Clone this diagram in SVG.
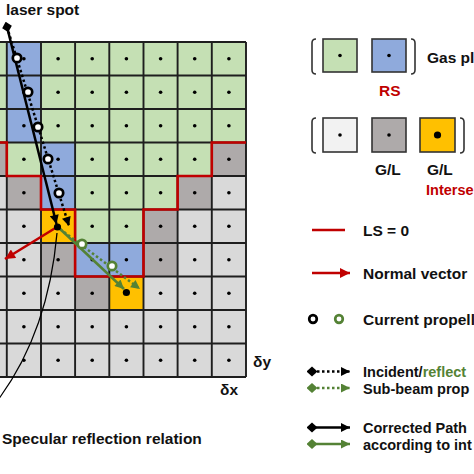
<svg xmlns="http://www.w3.org/2000/svg" width="474" height="474" viewBox="0 0 474 474">
<style>
.t{font-family:"Liberation Sans",Arial,sans-serif;font-weight:bold;font-size:15.5px;fill:#111}
.s{font-size:14.5px}
.red{fill:#c00000}
.gt{fill:#548235}
.G{fill:#c5e0b4}.B{fill:#8faadc}.L{fill:#d9d9d9}.D{fill:#aeaaaa}.O{fill:#ffc000}.W{fill:#f2f2f2}
.gl{stroke:#1e1e1e;stroke-width:1.9;fill:none}
.d{fill:#000}
.bx{stroke:#333;stroke-width:1.6}
.br{stroke:#333;stroke-width:1.6;fill:none}
.cb{fill:#fff;stroke:#000;stroke-width:2.7}
.cg{fill:#fff;stroke:#548235;stroke-width:2.7}
.kb{stroke:#000;stroke-width:2.5;fill:none}
.kg{stroke:#548235;stroke-width:2.5;fill:none}
.dot{stroke-dasharray:2.5 2.5}
</style>
<defs>
<marker id="ab" viewBox="0 0 10 10" refX="10" refY="5" markerWidth="10" markerHeight="9" markerUnits="userSpaceOnUse" orient="auto"><path d="M0,0 L10,5 L0,10 z" fill="#000"/></marker>
<marker id="ag" viewBox="0 0 10 10" refX="10" refY="5" markerWidth="10" markerHeight="9" markerUnits="userSpaceOnUse" orient="auto"><path d="M0,0 L10,5 L0,10 z" fill="#548235"/></marker>
<marker id="ar" viewBox="0 0 10 10" refX="10" refY="5" markerWidth="11" markerHeight="10" markerUnits="userSpaceOnUse" orient="auto"><path d="M0,0 L10,5 L0,10 z" fill="#c00000"/></marker>
<marker id="db" viewBox="0 0 10 10" refX="5" refY="5" markerWidth="11" markerHeight="11" markerUnits="userSpaceOnUse" orient="auto"><path d="M0,5 L5,0.5 L10,5 L5,9.5 z" fill="#000"/></marker>
<marker id="dg" viewBox="0 0 10 10" refX="5" refY="5" markerWidth="11" markerHeight="11" markerUnits="userSpaceOnUse" orient="auto"><path d="M0,5 L5,0.5 L10,5 L5,9.5 z" fill="#548235"/></marker>
</defs>
<rect width="474" height="474" fill="#fff"/>
<g id="grid">
<rect class="L" x="-27.4" y="42" width="273.4" height="335"/>
<rect class="G" x="-27.4" y="42" width="273.4" height="100.5"/>
<rect class="B" x="6.8" y="42" width="34.2" height="100.5"/>
<rect class="D" x="-27.4" y="142.5" width="34.2" height="33.5"/>
<rect class="G" x="6.8" y="142.5" width="34.2" height="33.5"/>
<rect class="B" x="41" y="142.5" width="34.1" height="67"/>
<rect class="G" x="75.1" y="142.5" width="136.7" height="33.5"/>
<rect class="D" x="211.8" y="142.5" width="34.2" height="33.5"/>
<rect class="D" x="6.8" y="176" width="34.2" height="33.5"/>
<rect class="G" x="75.1" y="176" width="102.5" height="33.5"/>
<rect class="D" x="177.6" y="176" width="34.2" height="33.5"/>
<rect class="O" x="41" y="209.5" width="34.1" height="33.5"/>
<rect class="G" x="75.1" y="209.5" width="68.4" height="33.5"/>
<rect class="D" x="143.5" y="209.5" width="34.1" height="67"/>
<rect class="D" x="41" y="243" width="34.1" height="33.5"/>
<rect class="B" x="75.1" y="243" width="68.4" height="33.5"/>
<rect class="D" x="75.1" y="276.5" width="34.2" height="33.5"/>
<rect class="O" x="109.3" y="276.5" width="34.2" height="33.5"/>
<path class="gl" d="M6.8,42V377M41,42V377M75.1,42V377M109.3,42V377M143.5,42V377M177.6,42V377M211.8,42V377M246,42V377M-1,42H246M-1,75.5H246M-1,109H246M-1,142.5H246M-1,176H246M-1,209.5H246M-1,243H246M-1,276.5H246M-1,310H246M-1,343.5H246M-1,377H246"/>
<path d="M-1,142.5H6.8V176H41V209.5H75.1V276.5H143.5V209.5H177.6V176H211.8V142.5H246" fill="none" stroke="#c00000" stroke-width="2.6"/>
<g class="d">
<circle cx="23.9" cy="58.75" r="1.8"/><circle cx="58.1" cy="58.75" r="1.8"/><circle cx="92.2" cy="58.75" r="1.8"/><circle cx="126.4" cy="58.75" r="1.8"/><circle cx="160.6" cy="58.75" r="1.8"/><circle cx="194.7" cy="58.75" r="1.8"/><circle cx="228.9" cy="58.75" r="1.8"/>
<circle cx="23.9" cy="92.25" r="1.8"/><circle cx="58.1" cy="92.25" r="1.8"/><circle cx="92.2" cy="92.25" r="1.8"/><circle cx="126.4" cy="92.25" r="1.8"/><circle cx="160.6" cy="92.25" r="1.8"/><circle cx="194.7" cy="92.25" r="1.8"/><circle cx="228.9" cy="92.25" r="1.8"/>
<circle cx="23.9" cy="125.75" r="1.8"/><circle cx="58.1" cy="125.75" r="1.8"/><circle cx="92.2" cy="125.75" r="1.8"/><circle cx="126.4" cy="125.75" r="1.8"/><circle cx="160.6" cy="125.75" r="1.8"/><circle cx="194.7" cy="125.75" r="1.8"/><circle cx="228.9" cy="125.75" r="1.8"/>
<circle cx="23.9" cy="159.25" r="1.8"/><circle cx="58.1" cy="159.25" r="1.8"/><circle cx="92.2" cy="159.25" r="1.8"/><circle cx="126.4" cy="159.25" r="1.8"/><circle cx="160.6" cy="159.25" r="1.8"/><circle cx="194.7" cy="159.25" r="1.8"/><circle cx="228.9" cy="159.25" r="1.8"/>
<circle cx="23.9" cy="192.75" r="1.8"/><circle cx="58.1" cy="192.75" r="1.8"/><circle cx="92.2" cy="192.75" r="1.8"/><circle cx="126.4" cy="192.75" r="1.8"/><circle cx="160.6" cy="192.75" r="1.8"/><circle cx="194.7" cy="192.75" r="1.8"/><circle cx="228.9" cy="192.75" r="1.8"/>
<circle cx="23.9" cy="226.25" r="1.8"/><circle cx="92.2" cy="226.25" r="1.8"/><circle cx="126.4" cy="226.25" r="1.8"/><circle cx="160.6" cy="226.25" r="1.8"/><circle cx="194.7" cy="226.25" r="1.8"/><circle cx="228.9" cy="226.25" r="1.8"/>
<circle cx="23.9" cy="259.75" r="1.8"/><circle cx="58.1" cy="259.75" r="1.8"/><circle cx="92.2" cy="259.75" r="1.8"/><circle cx="126.4" cy="259.75" r="1.8"/><circle cx="160.6" cy="259.75" r="1.8"/><circle cx="194.7" cy="259.75" r="1.8"/><circle cx="228.9" cy="259.75" r="1.8"/>
<circle cx="23.9" cy="293.25" r="1.8"/><circle cx="58.1" cy="293.25" r="1.8"/><circle cx="92.2" cy="293.25" r="1.8"/><circle cx="160.6" cy="293.25" r="1.8"/><circle cx="194.7" cy="293.25" r="1.8"/><circle cx="228.9" cy="293.25" r="1.8"/>
<circle cx="23.9" cy="326.75" r="1.8"/><circle cx="58.1" cy="326.75" r="1.8"/><circle cx="92.2" cy="326.75" r="1.8"/><circle cx="126.4" cy="326.75" r="1.8"/><circle cx="160.6" cy="326.75" r="1.8"/><circle cx="194.7" cy="326.75" r="1.8"/><circle cx="228.9" cy="326.75" r="1.8"/>
<circle cx="23.9" cy="360.25" r="1.8"/><circle cx="58.1" cy="360.25" r="1.8"/><circle cx="92.2" cy="360.25" r="1.8"/><circle cx="126.4" cy="360.25" r="1.8"/><circle cx="160.6" cy="360.25" r="1.8"/><circle cx="194.7" cy="360.25" r="1.8"/><circle cx="228.9" cy="360.25" r="1.8"/>
</g>
</g>
<g id="connectors">
<path d="M57,233 C52,290 35,350 -2,400" fill="none" stroke="#000" stroke-width="1.3"/>
<line class="kb dot" x1="7" y1="27" x2="69" y2="226" marker-end="url(#ab)"/>
<line class="kb" x1="7" y1="27" x2="56.5" y2="224" marker-start="url(#db)" marker-end="url(#ab)"/>
<line class="kg dot" x1="60" y1="229" x2="140" y2="289" marker-end="url(#ag)"/>
<line class="kg" x1="58" y1="227" x2="124" y2="289" marker-end="url(#ag)"/>
<line x1="57" y1="227" x2="5" y2="259" stroke="#c00000" stroke-width="2.6" marker-end="url(#ar)"/>
</g>
<g id="points">
<circle class="cb" cx="17" cy="58" r="4.2"/>
<circle class="cb" cx="28" cy="92" r="4.2"/>
<circle class="cb" cx="38" cy="127" r="4.2"/>
<circle class="cb" cx="48" cy="159" r="4.2"/>
<circle class="cb" cx="59" cy="193" r="4.2"/>
<circle class="cg" cx="82" cy="244" r="4.2"/>
<circle class="cg" cx="112" cy="266" r="4.2"/>
<circle class="d" cx="57.5" cy="227" r="3.6"/>
<circle class="d" cx="126.4" cy="292.5" r="3.6"/>
</g>
<g id="labels">
<text class="t" x="6" y="15">laser spot</text>
<text class="t" x="253" y="367">δy</text>
<text class="t" x="220" y="395">δx</text>
<text class="t" x="2" y="444">Specular reflection relation</text>
</g>
<g id="legend-gas">
<path class="br" d="M316,39Q312,39 312,43V70Q312,74 316,74"/>
<rect class="G bx" x="323" y="39" width="34" height="33"/>
<circle class="d" cx="340" cy="55.5" r="1.8"/>
<rect class="B bx" x="372" y="39" width="34" height="33"/>
<circle class="d" cx="389" cy="55.5" r="1.8"/>
<path class="br" d="M411,39Q415,39 415,43V70Q415,74 411,74"/>
<text class="t" x="427" y="63">Gas pl</text>
<text class="t red" x="379" y="96">RS</text>
</g>
<g id="legend-gl">
<path class="br" d="M316,118Q312,118 312,122V149Q312,153 316,153"/>
<rect class="W bx" x="323" y="118" width="34" height="34"/>
<circle class="d" cx="340" cy="135" r="1.8"/>
<rect class="D bx" x="372" y="118" width="34" height="34"/>
<circle class="d" cx="389" cy="135" r="1.8"/>
<rect class="O bx" x="420" y="118" width="35" height="34"/>
<circle class="d" cx="437.5" cy="135" r="3.6"/>
<path class="br" d="M460,118Q464,118 464,122V149Q464,153 460,153"/>
<text class="t" x="375" y="175">G/L</text>
<text class="t" x="427" y="175">G/L</text>
<text class="t s red" x="426" y="195">Interse</text>
</g>
<g id="legend-ls">
<line x1="312" y1="230" x2="345" y2="230" stroke="#c00000" stroke-width="2.6"/>
<text class="t" x="363" y="236">LS = 0</text>
</g>
<g id="legend-normal">
<line x1="312" y1="273" x2="350" y2="273" stroke="#c00000" stroke-width="2.6" marker-end="url(#ar)"/>
<text class="t" x="363" y="279">Normal vector</text>
</g>
<g id="legend-points">
<circle class="cb" cx="313" cy="319" r="3.8"/>
<circle class="cg" cx="339" cy="319" r="3.8"/>
<text class="t" x="363" y="325">Current propell</text>
</g>
<g id="legend-paths">
<line class="kb dot" x1="312" y1="371.5" x2="350" y2="371.5" marker-start="url(#db)" marker-end="url(#ab)"/>
<text class="t s" x="363" y="377">Incident/<tspan class="gt">reflect</tspan></text>
<line class="kg dot" x1="312" y1="388" x2="350" y2="388" marker-start="url(#dg)" marker-end="url(#ag)"/>
<text class="t s" x="363" y="394">Sub-beam prop</text>
<line class="kb" x1="312" y1="427.5" x2="350" y2="427.5" marker-start="url(#db)" marker-end="url(#ab)"/>
<text class="t s" x="363" y="433">Corrected Path</text>
<line class="kg" x1="312" y1="444" x2="350" y2="444" marker-start="url(#dg)" marker-end="url(#ag)"/>
<text class="t s" x="363" y="450">according to int</text>
</g>
</svg>
